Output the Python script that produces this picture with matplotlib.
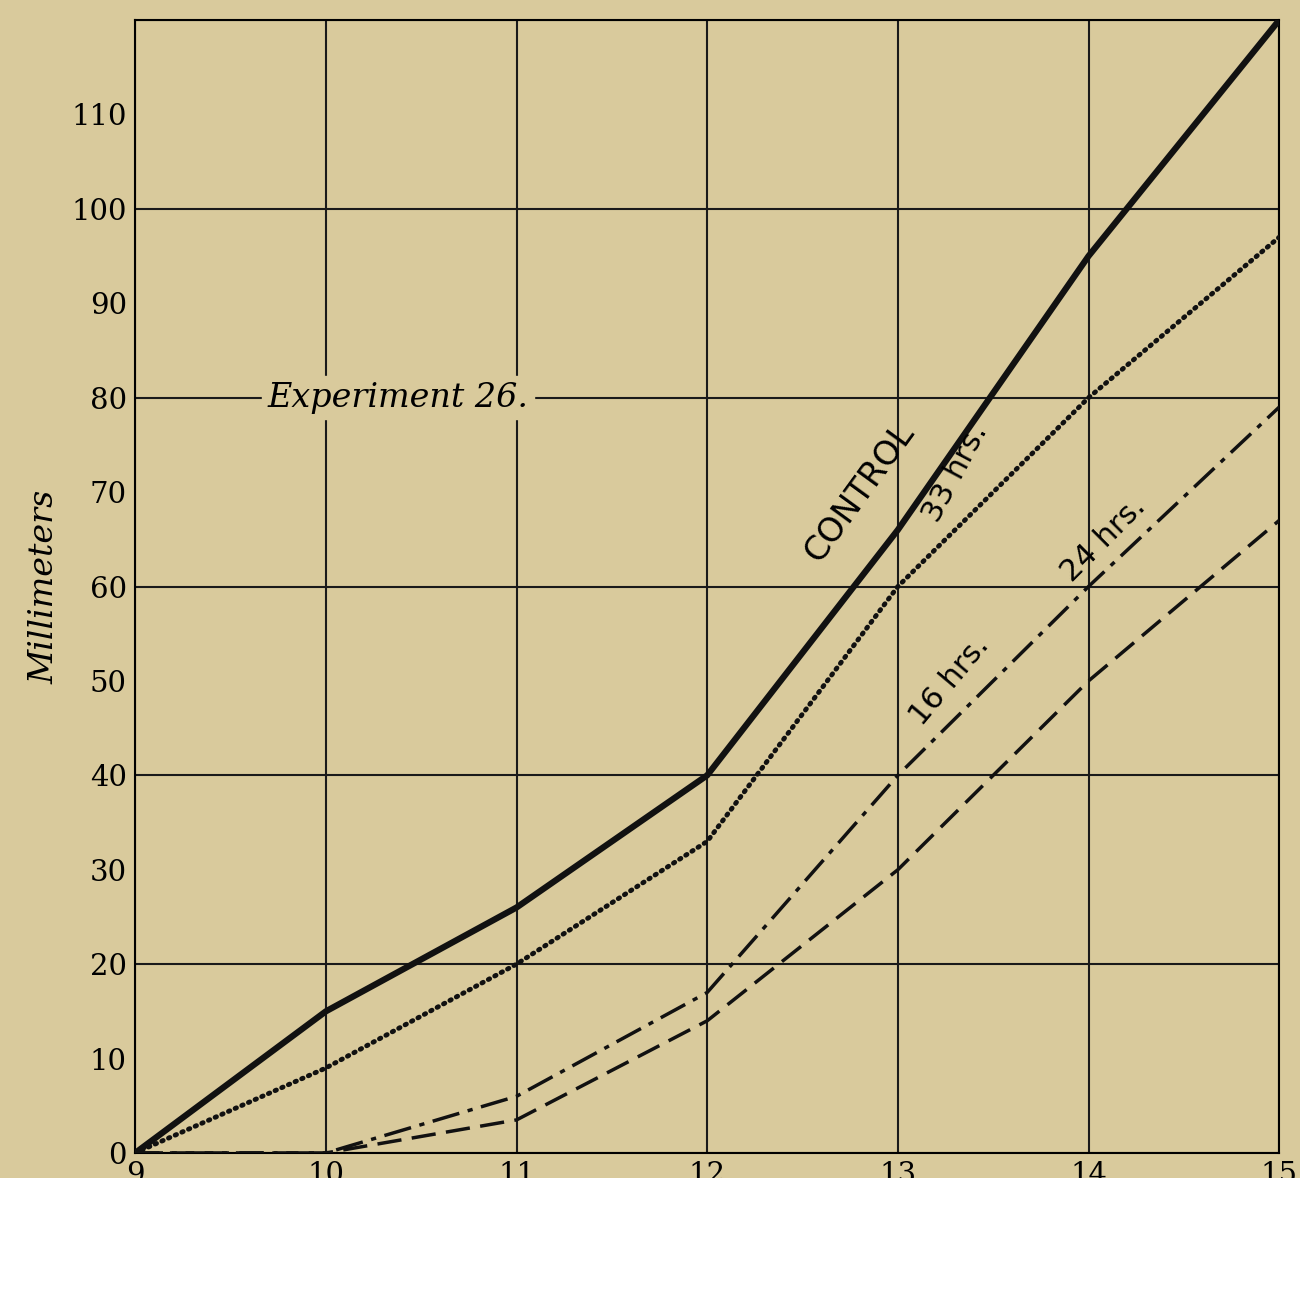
import matplotlib
matplotlib.use("Agg")
import matplotlib.pyplot as plt
from matplotlib.patches import Rectangle

hours = [9, 10, 11, 12, 13, 14, 15]
control = [0, 15, 26, 40, 66, 95, 120]
h33 = [0, 9, 20, 33, 60, 80, 97]
h16 = [0, 0, 6, 17, 40, 60, 79]
h24 = [0, 0, 3.5, 14, 30, 50, 67]
yticks = list(range(0, 120, 10))

bg = "#d9ca9c"
fig = plt.figure(figsize=(13, 12.94), dpi=100, facecolor=bg)
ax = fig.add_axes([0.104, 0.109, 0.88, 0.8755], facecolor=bg)
ax.set_xlim(9, 15); ax.set_ylim(0, 120)
for x in hours:
    ax.axvline(x, color="#1a1a1a", lw=1.5, zorder=1)
for y in range(0, 121, 20):
    ax.axhline(y, color="#1a1a1a", lw=1.5, zorder=1)
for s in ax.spines.values():
    s.set_linewidth(1.5)

ax.plot(hours, control, color="#111", lw=4.5, zorder=3)
ax.plot(hours, h33, color="#111", lw=3.5, linestyle=(0, (0.3, 1.2)), dash_capstyle="round", zorder=3)
ax.plot(hours, h16, color="#111", lw=2.5, linestyle=(0, (8, 2.5, 1.5, 2.5)), zorder=3)
ax.plot(hours, h24, color="#111", lw=2.5, linestyle=(0, (7, 3)), zorder=3)

ax.set_yticks(yticks)
ax.set_yticklabels([str(t) for t in yticks], fontfamily="DejaVu Serif", fontsize=21)
ax.set_xticks(hours)
ax.set_xticklabels([str(h) for h in hours], fontfamily="DejaVu Serif", fontsize=21)
ax.tick_params(length=0, pad=6)
ax.set_ylabel("Millimeters", fontfamily="DejaVu Serif", style="italic", fontsize=24, labelpad=8)

ax.text(10.38, 80, "Experiment 26.", fontfamily="DejaVu Serif", style="italic", fontsize=24,
        ha="center", va="center", backgroundcolor=bg, zorder=4)
ax.text(12.8, 70, "CONTROL", rotation=54, fontsize=24, ha="center", va="center", zorder=4)
ax.text(13.3, 72, "33 hrs.", rotation=62, fontsize=22, ha="center", va="center", zorder=4)
ax.text(13.27, 50, "16 hrs.", rotation=50, fontsize=22, ha="center", va="center", zorder=4)
ax.text(14.08, 65, "24 hrs.", rotation=45, fontsize=22, ha="center", va="center", zorder=4)

fig.patches.append(Rectangle((0, 0), 1, 0.0896, transform=fig.transFigure, facecolor="white",
                             edgecolor="none", zorder=10))
fig.savefig("out.png", dpi=100, facecolor=bg)
